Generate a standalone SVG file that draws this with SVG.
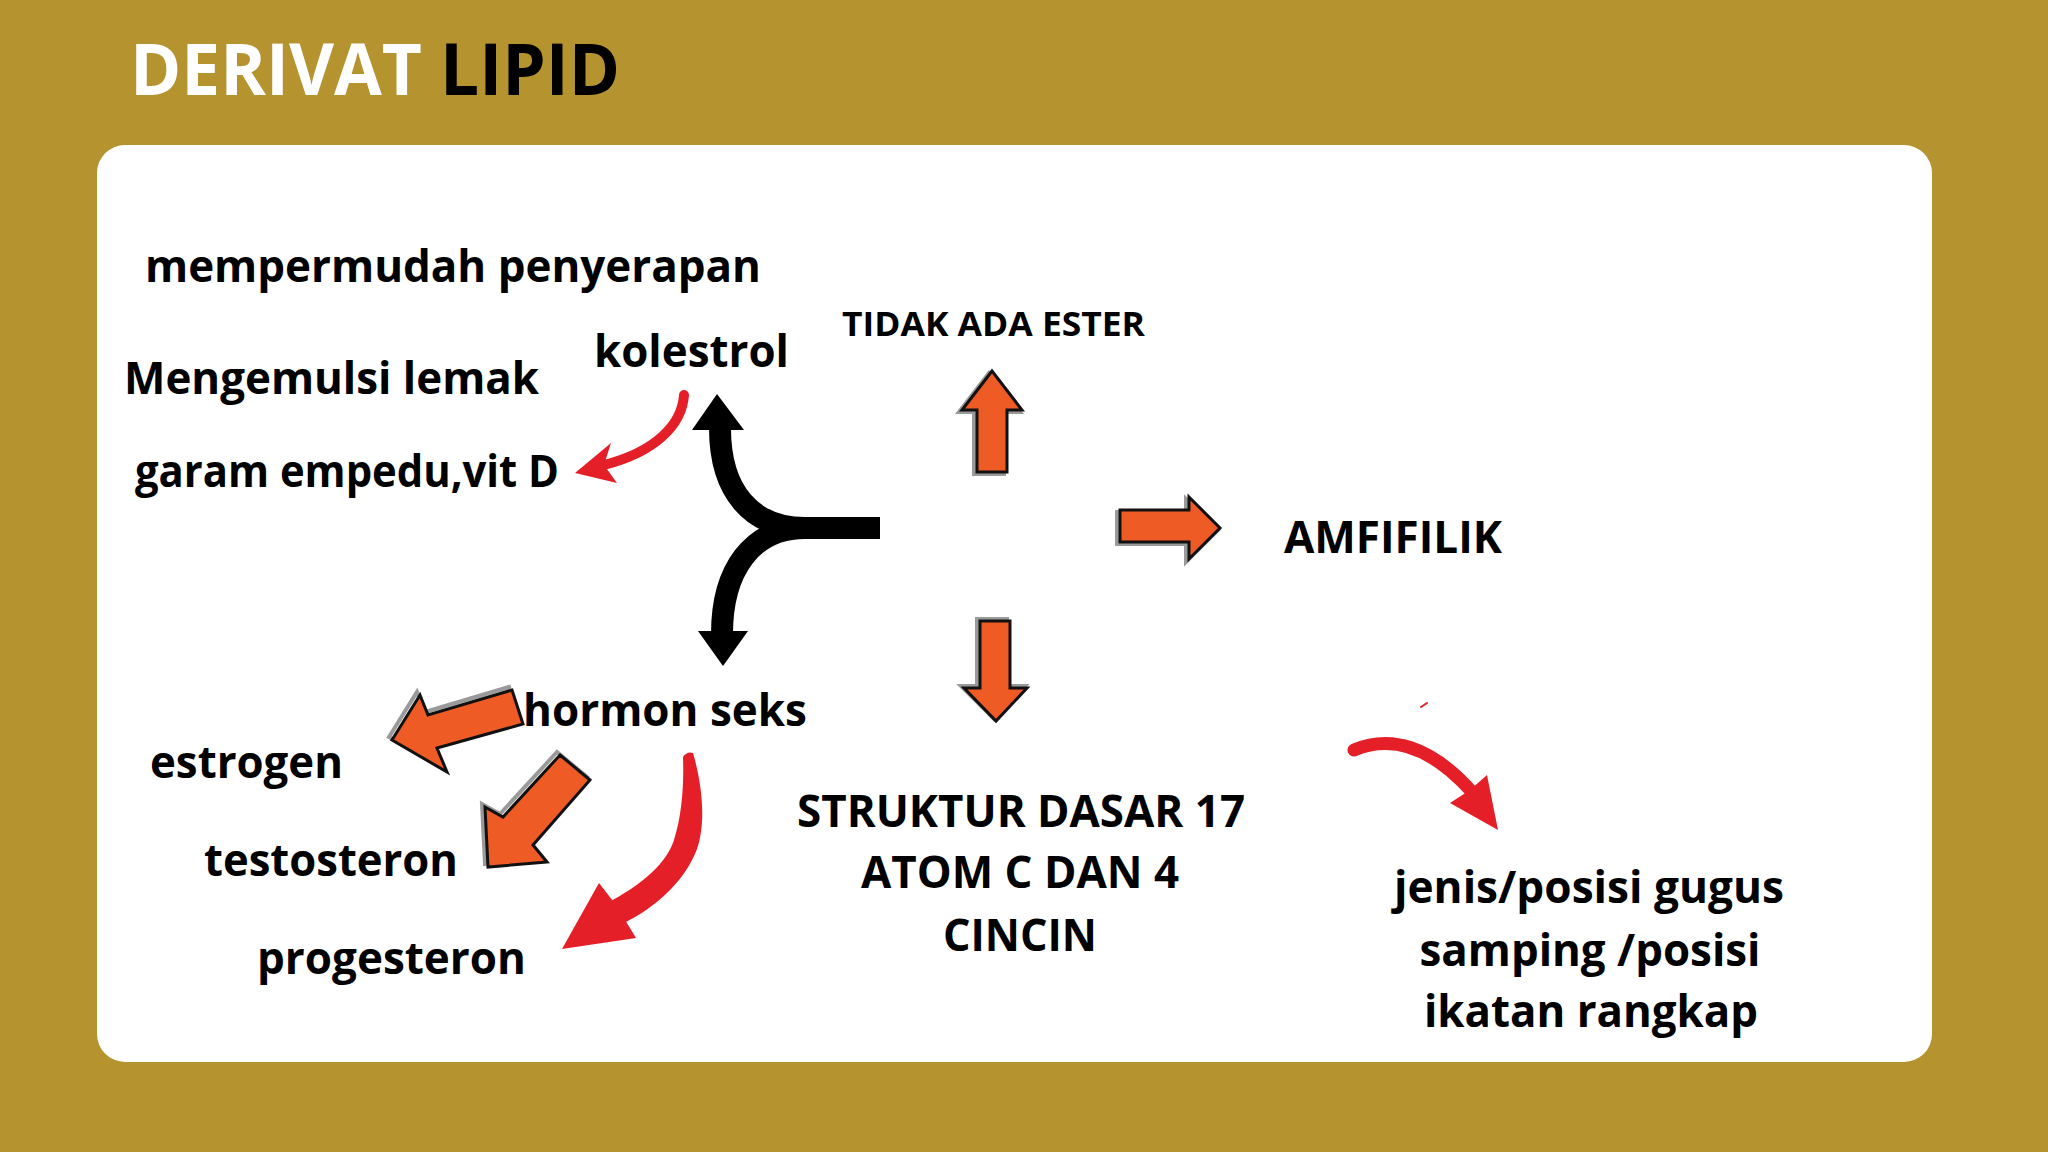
<svg xmlns="http://www.w3.org/2000/svg" width="2048" height="1152" viewBox="0 0 2048 1152">
<defs>
<style>
.t{font-family:"Open Sans","Noto Sans","Liberation Sans",sans-serif;font-weight:700;fill:#000;}
.l{font-size:45px;}
.oa{fill:#EF5B25;stroke:#111;stroke-width:3;stroke-linejoin:miter;}
.sh{fill:none;stroke:#9a9a9a;stroke-width:4;stroke-linejoin:miter;}
.red{fill:none;stroke:#E41F28;stroke-linecap:round;stroke-linejoin:round;}
.redf{fill:#E41F28;}
</style>
</defs>
<rect x="0" y="0" width="2048" height="1152" fill="#B5932F"/>
<rect x="97" y="145" width="1835" height="917" rx="28" ry="28" fill="#FFFFFF"/>
<g id="title">
<text class="t" x="130" y="95" font-size="72" textLength="490" lengthAdjust="spacingAndGlyphs"><tspan fill="#FFFFFF">DERIVAT </tspan><tspan fill="#000">LIPID</tspan></text>
</g>
<g id="connectors">
<g id="fork" fill="none" stroke="#000" stroke-width="22">
<path d="M 880 528 L 790 528"/>
<path d="M 805 528 C 752 528 720 492 720 428"/>
<path d="M 805 528 C 752 528 722 570 722 634"/>
</g>
<polygon points="717,394 744,430 692,430" fill="#000"/>
<polygon points="723,666 748,631 698,631" fill="#000"/>
<g id="orange-up">
<polygon class="sh" points="974,474 974,412 959,412 989,373 1020,412 1004,412 1004,474"/>
<polygon class="oa" points="977,472 977,410 962,410 992,371 1022,410 1007,410 1007,472"/>
</g>
<g id="orange-right">
<polygon class="sh" points="1117,512 1186,512 1186,499 1218,530 1186,562 1186,544 1117,544"/>
<polygon class="oa" points="1120,510 1189,510 1189,497 1220,528 1189,559 1189,542 1120,542"/>
</g>
<g id="orange-down">
<polygon class="sh" points="977,619 1007,619 1007,686 1025,686 994,719 961,686 977,686"/>
<polygon class="oa" points="980,621 1010,621 1010,688 1027,688 996,721 964,688 980,688"/>
</g>
<g id="orange-estrogen">
<polygon class="sh" points="509,687 520,721 434,745 444,769 389,737 417,692 425,712"/>
<polygon class="oa" points="512,690 523,724 437,748 447,772 392,740 420,695 428,715"/>
</g>
<g id="orange-testosteron">
<polygon class="sh" points="557,752 587,777 530,842 544,859 485,864 482,804 500,814"/>
<polygon class="oa" points="560,755 590,780 533,845 547,862 488,867 485,807 503,817"/>
</g>
<g id="red-kolestrol">
<path class="red" stroke-width="10" d="M 684 395 C 682 425 655 452 604 465"/>
<polygon class="redf" points="575,473 611,443 604,465 617,483"/>
</g>
<g id="red-hormon">
<path class="redf" d="M 683 757 Q 687 751 693 753 C 701 780 707 820 697 849 C 686 878 660 906 620 925 L 605 904 C 644 884 667 862 674 840 C 682 815 684 785 683 757 Z"/>
<polygon class="redf" points="562,949 599,883 616,905 636,938"/>
</g>
<g id="red-right">
<path class="red" stroke-width="13" d="M 1354 750 C 1390 735 1430 745 1472 792"/>
<polygon class="redf" points="1498,830 1450,803 1470,790 1487,775"/>
<path class="red" stroke-width="2" d="M 1421 707 L 1427 703"/>
</g>
</g>
<g id="node-mempermudah"><text class="t l" x="145" y="282" textLength="616" lengthAdjust="spacingAndGlyphs">mempermudah penyerapan</text></g>
<g id="node-kolestrol"><text class="t l" x="594" y="367" textLength="195" lengthAdjust="spacingAndGlyphs">kolestrol</text></g>
<g id="node-mengemulsi"><text class="t l" x="124" y="394" textLength="415" lengthAdjust="spacingAndGlyphs">Mengemulsi lemak</text></g>
<g id="node-garam"><text class="t l" x="135" y="487" textLength="424" lengthAdjust="spacingAndGlyphs">garam empedu,vit D</text></g>
<g id="node-tidak"><text class="t" font-size="34" x="842" y="336" textLength="303" lengthAdjust="spacingAndGlyphs">TIDAK ADA ESTER</text></g>
<g id="node-amfifilik"><text class="t l" x="1284" y="553" textLength="218" lengthAdjust="spacingAndGlyphs">AMFIFILIK</text></g>
<g id="node-hormon"><text class="t l" x="523" y="726" textLength="284" lengthAdjust="spacingAndGlyphs">hormon seks</text></g>
<g id="node-estrogen"><text class="t l" x="150" y="778" textLength="193" lengthAdjust="spacingAndGlyphs">estrogen</text></g>
<g id="node-testosteron"><text class="t l" x="204" y="876" textLength="254" lengthAdjust="spacingAndGlyphs">testosteron</text></g>
<g id="node-progesteron"><text class="t l" x="257" y="974" textLength="269" lengthAdjust="spacingAndGlyphs">progesteron</text></g>
<g id="node-struktur" text-anchor="middle">
<text class="t" font-size="44" x="1021" y="827" textLength="448" lengthAdjust="spacingAndGlyphs">STRUKTUR DASAR 17</text>
<text class="t" font-size="44" x="1020" y="888" textLength="318" lengthAdjust="spacingAndGlyphs">ATOM C DAN 4</text>
<text class="t" font-size="44" x="1020" y="951" textLength="154" lengthAdjust="spacingAndGlyphs">CINCIN</text>
</g>
<g id="node-jenis" text-anchor="middle">
<text class="t l" x="1589" y="903" textLength="390" lengthAdjust="spacingAndGlyphs">jenis/posisi gugus</text>
<text class="t l" x="1590" y="966" textLength="341" lengthAdjust="spacingAndGlyphs">samping /posisi</text>
<text class="t l" x="1591" y="1027" textLength="334" lengthAdjust="spacingAndGlyphs">ikatan rangkap</text>
</g>
</svg>
